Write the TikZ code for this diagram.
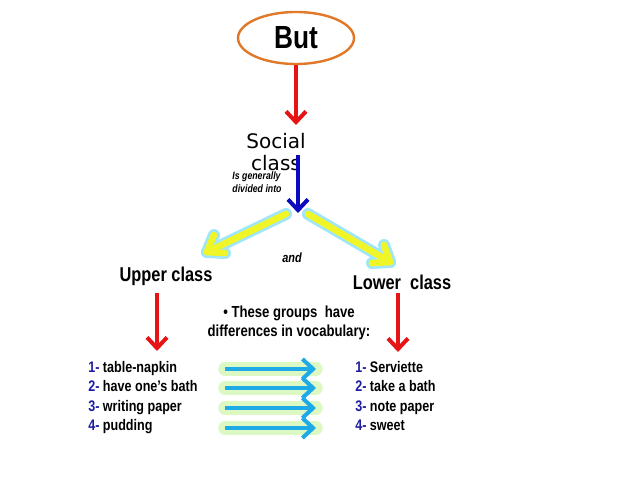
\documentclass[tikz,border=0pt]{standalone}
\usepackage{fontspec}
\setmainfont{Liberation Sans}[FakeStretch=0.82]
\newfontfamily\comic{DejaVu Sans}
\usetikzlibrary{shapes.geometric,arrows.meta}
\definecolor{dblue}{RGB}{30,30,160}
\definecolor{myred}{RGB}{230,20,20}
\definecolor{myblue}{RGB}{10,10,190}
\definecolor{cyglow}{RGB}{160,230,250}
\definecolor{yel}{RGB}{240,245,40}
\definecolor{grglow}{RGB}{220,248,195}
\definecolor{cyarrc}{RGB}{30,170,230}
\tikzset{
  barb/.style={-{Straight Barb[length=8pt,width=15pt,line width=3pt]}},
  redarr/.style={draw=myred,line width=3pt,barb},
  bluearr/.style={draw=myblue,line width=3pt,barb},
  glowy/.style={draw=cyglow,line width=9pt,line cap=round},
  yelarr/.style={draw=yel,line width=5pt,line cap=round},
  glowg/.style={draw=grglow,line width=10pt,line cap=round},
  cyarr/.style={draw=cyarrc,line width=3pt,barb},
  lbl/.style={inner sep=0pt,font=\bfseries\fontsize{11.5}{13.5}\selectfont,anchor=base west}
}
\begin{document}
\begin{tikzpicture}[x=0.75pt,y=-0.75pt]
\useasboundingbox[fill=white] (0,0) rectangle (638,478);
\node[ellipse,draw={rgb,255:red,225;green,120;blue,40},line width=1.8pt,minimum width=87pt,minimum height=39pt,inner sep=0pt,font=\bfseries\fontsize{24}{26}\selectfont] (but) at (296,38) {But};
\node[inner sep=0pt,align=center,font=\comic\fontsize{15}{17}\selectfont] (soc) at (276,152) {Social\\class};
\node[inner sep=0pt,align=left,font=\bfseries\itshape\fontsize{8}{10}\selectfont] (gen) at (257,182) {Is generally\\divided into};
\coordinate (b1) at (296,65); \coordinate (b2) at (296,125);
\draw[redarr] (b1) -- (b2);
\coordinate (s1) at (298,155); \coordinate (s2) at (298,213);
\draw[bluearr] (s1) -- (s2);
\coordinate (y0) at (286,214); \coordinate (y1) at (207,252);
\coordinate (z0) at (308,214); \coordinate (z1) at (390,262);
\foreach \a/\b in {y0/y1,z0/z1}{\draw[glowy] (\a) -- (\b);}
\draw[glowy] (y1) -- ++(7,-17); \draw[glowy] (y1) -- ++(18,1);
\draw[glowy] (z1) -- ++(-18,1); \draw[glowy] (z1) -- ++(-6,-17);
\foreach \a/\b in {y0/y1,z0/z1}{\draw[yelarr] (\a) -- (\b);}
\draw[yelarr] (y1) -- ++(7,-17); \draw[yelarr] (y1) -- ++(18,1);
\draw[yelarr] (z1) -- ++(-18,1); \draw[yelarr] (z1) -- ++(-6,-17);
\node[inner sep=0pt,font=\bfseries\itshape\fontsize{10}{12}\selectfont] (and) at (292,258) {and};
\node[inner sep=0pt,font=\bfseries\fontsize{15}{17}\selectfont] (up) at (166,276) {Upper class};
\node[inner sep=0pt,font=\bfseries\fontsize{15}{17}\selectfont] (low) at (402,282) {Lower\ \ class};
\coordinate (u1) at (157,293); \coordinate (u2) at (157,351);
\coordinate (l1) at (398,293); \coordinate (l2) at (398,352);
\draw[redarr] (u1) -- (u2); \draw[redarr] (l1) -- (l2);
\node[inner sep=0pt,align=center,font=\bfseries\fontsize{12}{14}\selectfont] (grp) at (289,323) {\textbullet\ These groups\ \ have\\differences in vocabulary:};
\foreach \y [count=\k] in {369,388,408,428}{
  \coordinate (a\k) at (225,\y); \coordinate (c\k) at (316,\y);
  \draw[glowg] (a\k) -- (c\k);
}
\foreach \k in {1,...,4}{\draw[cyarr] (a\k) -- (c\k);}
\node[lbl] (La) at (88,372) {\textcolor{dblue}{1-} table-napkin};
\node[lbl] (Lb) at (88,391) {\textcolor{dblue}{2-} have one’s bath};
\node[lbl] (Lc) at (88,411) {\textcolor{dblue}{3-} writing paper};
\node[lbl] (Ld) at (88,430) {\textcolor{dblue}{4-} pudding};
\node[lbl] (Ra) at (355,372) {\textcolor{dblue}{1-} Serviette};
\node[lbl] (Rb) at (355,391) {\textcolor{dblue}{2-} take a bath};
\node[lbl] (Rc) at (355,411) {\textcolor{dblue}{3-} note paper};
\node[lbl] (Rd) at (355,430) {\textcolor{dblue}{4-} sweet};
\end{tikzpicture}
\end{document}
